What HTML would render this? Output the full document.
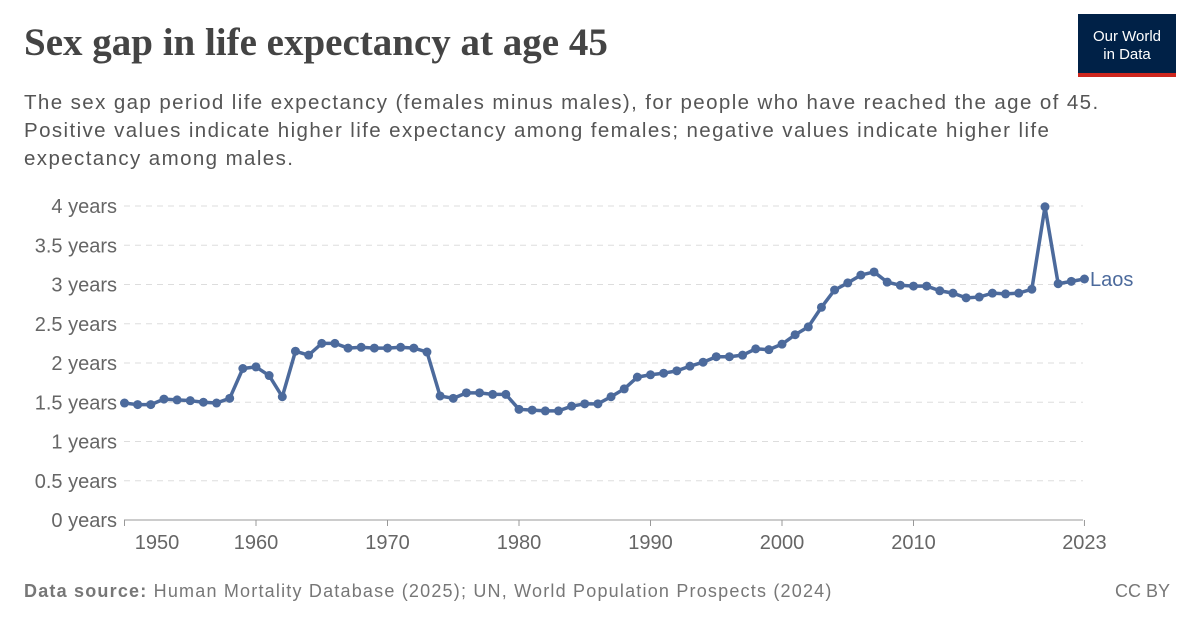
<!DOCTYPE html>
<html><head><meta charset="utf-8"><style>
body{margin:0;background:#fff;width:1200px;height:627px;overflow:hidden;font-family:"Liberation Sans",sans-serif}
.title{position:absolute;left:24px;top:20px;font-family:"Liberation Serif",serif;font-size:39px;font-weight:bold;color:#444}
.sub{position:absolute;left:24px;top:89px;font-size:20.5px;line-height:28px;color:#555;width:1160px;letter-spacing:1.4px;white-space:nowrap}
.logo{position:absolute;left:1078px;top:14px;width:98px;height:63px;background:#002147;color:#fff;font-size:15px;line-height:18px;text-align:center;box-sizing:border-box;padding-top:14px}
.logo:after{content:"";position:absolute;left:0;bottom:0;width:100%;height:4px;background:#ce261e}
.foot{position:absolute;top:581px;font-size:18px;color:#777}
</style></head><body>
<div class="title">Sex gap in life expectancy at age 45</div>
<div class="logo">Our World<br>in Data</div>
<div class="sub">The sex gap period life expectancy (females minus males), for people who have reached the age of 45.<br>Positive values indicate higher life expectancy among females; negative values indicate higher life<br>expectancy among males.</div>
<svg id="c" width="1200" height="627" style="position:absolute;left:0;top:0"></svg>
<div class="foot" style="left:24px;letter-spacing:1.2px"><b>Data source:</b> Human Mortality Database (2025); UN, World Population Prospects (2024)</div>
<div class="foot" style="right:30px">CC BY</div>
<script>
const years=[];for(let y=1950;y<=2023;y++)years.push(y);
const values=[1.49,1.47,1.47,1.54,1.53,1.52,1.50,1.49,1.55,1.93,1.95,1.84,1.57,2.15,2.10,2.25,2.25,2.19,2.20,2.19,2.19,2.20,2.19,2.14,1.58,1.55,1.62,1.62,1.60,1.60,1.41,1.40,1.39,1.39,1.45,1.48,1.48,1.57,1.67,1.82,1.85,1.87,1.90,1.96,2.01,2.08,2.08,2.10,2.18,2.17,2.24,2.36,2.46,2.71,2.93,3.02,3.12,3.16,3.03,2.99,2.98,2.98,2.92,2.89,2.83,2.84,2.89,2.88,2.89,2.94,3.99,3.01,3.04,3.07];
const yTicks=[0,0.5,1,1.5,2,2.5,3,3.5,4];
const xTicks=[1950,1960,1970,1980,1990,2000,2010,2023];
const NS="http://www.w3.org/2000/svg",svg=document.getElementById('c');
const X=y=>124.5+(y-1950)*13.15, Y=v=>520-v*78.5;
function el(t,a,txt){const e=document.createElementNS(NS,t);for(const k in a)e.setAttribute(k,a[k]);if(txt!=null)e.textContent=txt;svg.appendChild(e);return e;}
yTicks.forEach(v=>{
 if(v>0){const g=el('line',{x1:124,x2:1083,y1:Y(v),y2:Y(v),stroke:'#ddd','stroke-dasharray':'6,5'});
 
 }
 const t=el('text',{x:117,y:Y(v)+7,'text-anchor':'end','font-size':20,fill:'#666','font-family':'Liberation Sans'},v+' years');
 
 
});
const ax=el('line',{x1:124,x2:1083,y1:520,y2:520,stroke:'#999'});


xTicks.forEach((yr,i)=>{
 el('line',{x1:X(yr),x2:X(yr),y1:520,y2:526,stroke:'#999'});
 const t=el('text',{x:i==0?157:X(yr),y:549,'text-anchor':'middle','font-size':20,fill:'#666','font-family':'Liberation Sans'},yr);
 
 
});
const p=el('polyline',{points:years.map((y,i)=>X(y)+','+Y(values[i])).join(' '),fill:'none',stroke:'#4c6a9c','stroke-width':3.5,'stroke-linejoin':'round'});


years.forEach((y,i)=>{const c=el('circle',{cx:X(y),cy:Y(values[i]),r:4.5,fill:'#4c6a9c'});
 
 });
const lb=el('text',{x:1090,y:Y(values[values.length-1])+7,'font-size':20,fill:'#4c6a9c','font-family':'Liberation Sans'},'Laos');


</script>
</body></html>
